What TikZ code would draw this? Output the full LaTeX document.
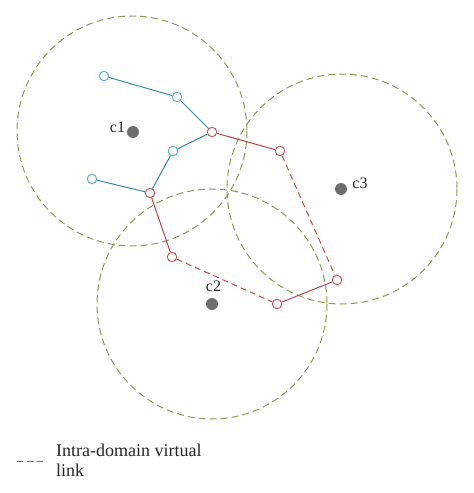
\documentclass[tikz,border=0pt]{standalone}
\usepackage{fontspec}
\setmainfont{Liberation Serif}
\begin{document}
\begin{tikzpicture}[x=1pt,y=-1pt,
  domaincirc/.style={draw=olivedash, dash pattern=on 7pt off 4pt, line width=1pt},
  bnode/.style={circle, draw=nodeblue, fill=white, line width=0.9pt, minimum size=9.5pt, inner sep=0pt},
  rnode/.style={circle, draw=nodered, fill=white, line width=0.9pt, minimum size=9.5pt, inner sep=0pt},
  ctr/.style={circle, fill=dotgray, minimum size=12pt, inner sep=0pt},
  blink/.style={draw=linkblue, line width=1pt},
  rlink/.style={draw=linkred, line width=1pt},
  vlink/.style={draw=linkred!80!orange, line width=1pt, dash pattern=on 6pt off 4pt},
  lbl/.style={font=\fontsize{16}{18}\selectfont, text=black!85, inner sep=1pt}
]
\definecolor{olivedash}{HTML}{8A9A55}
\definecolor{nodeblue}{HTML}{5AAFD0}
\definecolor{linkblue}{HTML}{3A88A8}
\definecolor{nodered}{HTML}{D05555}
\definecolor{linkred}{HTML}{B04545}
\definecolor{dotgray}{HTML}{6E6E6E}
\useasboundingbox (0,0) rectangle (474,493);

% domains
\draw[domaincirc] (132,131) circle (115);
\draw[domaincirc] (212,304) circle (115);
\draw[domaincirc] (342,189) circle (115);

% centres
\node[ctr] (c1) at (133,132) {};
\node[ctr] (c2) at (212,304) {};
\node[ctr] (c3) at (341,189) {};
\node[lbl] (l1) at (117.5,127) {c1};
\node[lbl] (l2) at (213.5,286) {c2};
\node[lbl] (l3) at (360,183) {c3};

% nodes
\node[bnode] (b1) at (104,76) {};
\node[bnode] (b2) at (177,97) {};
\node[bnode] (b3) at (173,151) {};
\node[bnode] (b4) at (92,179) {};
\node[rnode] (r1) at (212,132) {};
\node[rnode] (r2) at (280,151) {};
\node[rnode] (r3) at (150,193) {};
\node[rnode] (r4) at (172,257) {};
\node[rnode] (r5) at (277,304) {};
\node[rnode] (r6) at (337,280) {};

% links
\draw[blink] (b1) -- (b2);
\draw[blink] (b2) -- (r1);
\draw[blink] (r1) -- (b3);
\draw[blink] (b3) -- (r3);
\draw[blink] (b4) -- (r3);
\draw[rlink] (r1) -- (r2);
\draw[rlink] (r3) -- (r4);
\draw[rlink] (r5) -- (r6);
\draw[vlink] (r2) -- (r6);
\draw[vlink] (r4) -- (r5);

% legend
\coordinate (la) at (17,461);
\coordinate (lb) at (46,461);
\draw[vlink] (la) -- (lb);
\node[lbl, anchor=north west, align=left, font=\fontsize{18}{20}\selectfont] (leg) at (55,442.5) {Intra-domain virtual\\link};
\end{tikzpicture}
\end{document}
